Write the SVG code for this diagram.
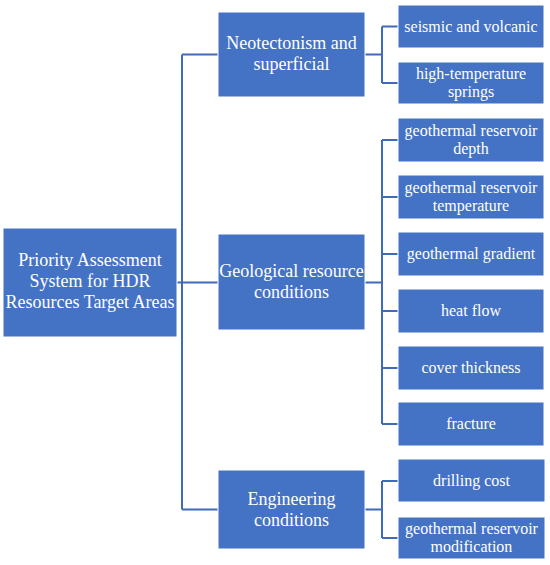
<svg xmlns="http://www.w3.org/2000/svg" width="550" height="565" viewBox="0 0 550 565">
<style>
.box{fill:#4472C4;stroke:#ffffff;stroke-width:1}
.t{font-family:"Liberation Serif","Times New Roman",serif;fill:#ffffff;text-anchor:middle}
.big{font-size:18px}
.sm{font-size:16px}
.ln{fill:none;stroke:#3F6AB8;stroke-width:2}
</style>
<rect width="550" height="565" fill="#ffffff"/>
<g id="connectors">
<path class="ln" d="M177,282.5 H182 M182,54.5 V509.5 M182,54.5 H218 M182,282.5 H218 M182,509.5 H218"/>
<path class="ln" d="M365,54.5 H382 M382,26.5 V83 M382,26.5 H398 M382,83 H398"/>
<path class="ln" d="M365,282.5 H382 M382,140 V424 M382,140 H398 M382,197 H398 M382,254 H398 M382,311 H398 M382,368 H398 M382,424 H398"/>
<path class="ln" d="M365,509.5 H382 M382,481 V538 M382,481 H398 M382,538 H398"/>
</g>
<g id="root">
<rect class="box" x="3" y="228" width="174" height="109"/>
<text class="t big" x="90" y="266">Priority Assessment</text>
<text class="t big" x="90" y="287">System for HDR</text>
<text class="t big" x="90" y="308">Resources Target Areas</text>
</g>
<g id="neotectonism">
<rect class="box" x="218" y="12" width="147" height="85"/>
<text class="t big" x="291.5" y="49">Neotectonism and</text>
<text class="t big" x="291.5" y="70">superficial</text>
</g>
<g id="geological">
<rect class="box" x="218" y="234" width="147" height="96"/>
<text class="t big" x="291.5" y="277">Geological resource</text>
<text class="t big" x="291.5" y="298">conditions</text>
</g>
<g id="engineering">
<rect class="box" x="218" y="470" width="147" height="79"/>
<text class="t big" x="291.5" y="505">Engineering</text>
<text class="t big" x="291.5" y="526">conditions</text>
</g>
<g id="seismic">
<rect class="box" x="398" y="5" width="146" height="43"/>
<text class="t sm" x="471" y="31.5">seismic and volcanic</text>
</g>
<g id="springs">
<rect class="box" x="398" y="62" width="146" height="42"/>
<text class="t sm" x="471" y="78.5">high-temperature</text>
<text class="t sm" x="471" y="97">springs</text>
</g>
<g id="depth">
<rect class="box" x="398" y="118" width="146" height="44"/>
<text class="t sm" x="471" y="135.5">geothermal reservoir</text>
<text class="t sm" x="471" y="154">depth</text>
</g>
<g id="temperature">
<rect class="box" x="398" y="175" width="146" height="44"/>
<text class="t sm" x="471" y="192.5">geothermal reservoir</text>
<text class="t sm" x="471" y="211">temperature</text>
</g>
<g id="gradient">
<rect class="box" x="398" y="232" width="146" height="44"/>
<text class="t sm" x="471" y="259">geothermal gradient</text>
</g>
<g id="heatflow">
<rect class="box" x="398" y="289" width="146" height="44"/>
<text class="t sm" x="471" y="316">heat flow</text>
</g>
<g id="cover">
<rect class="box" x="398" y="346" width="146" height="44"/>
<text class="t sm" x="471" y="373">cover thickness</text>
</g>
<g id="fracture">
<rect class="box" x="398" y="402" width="146" height="44"/>
<text class="t sm" x="471" y="429">fracture</text>
</g>
<g id="drilling">
<rect class="box" x="398" y="459" width="147" height="43"/>
<text class="t sm" x="471.5" y="486">drilling cost</text>
</g>
<g id="modification">
<rect class="box" x="398" y="517" width="147" height="42"/>
<text class="t sm" x="471.5" y="533.5">geothermal reservoir</text>
<text class="t sm" x="471.5" y="552">modification</text>
</g>
</svg>
